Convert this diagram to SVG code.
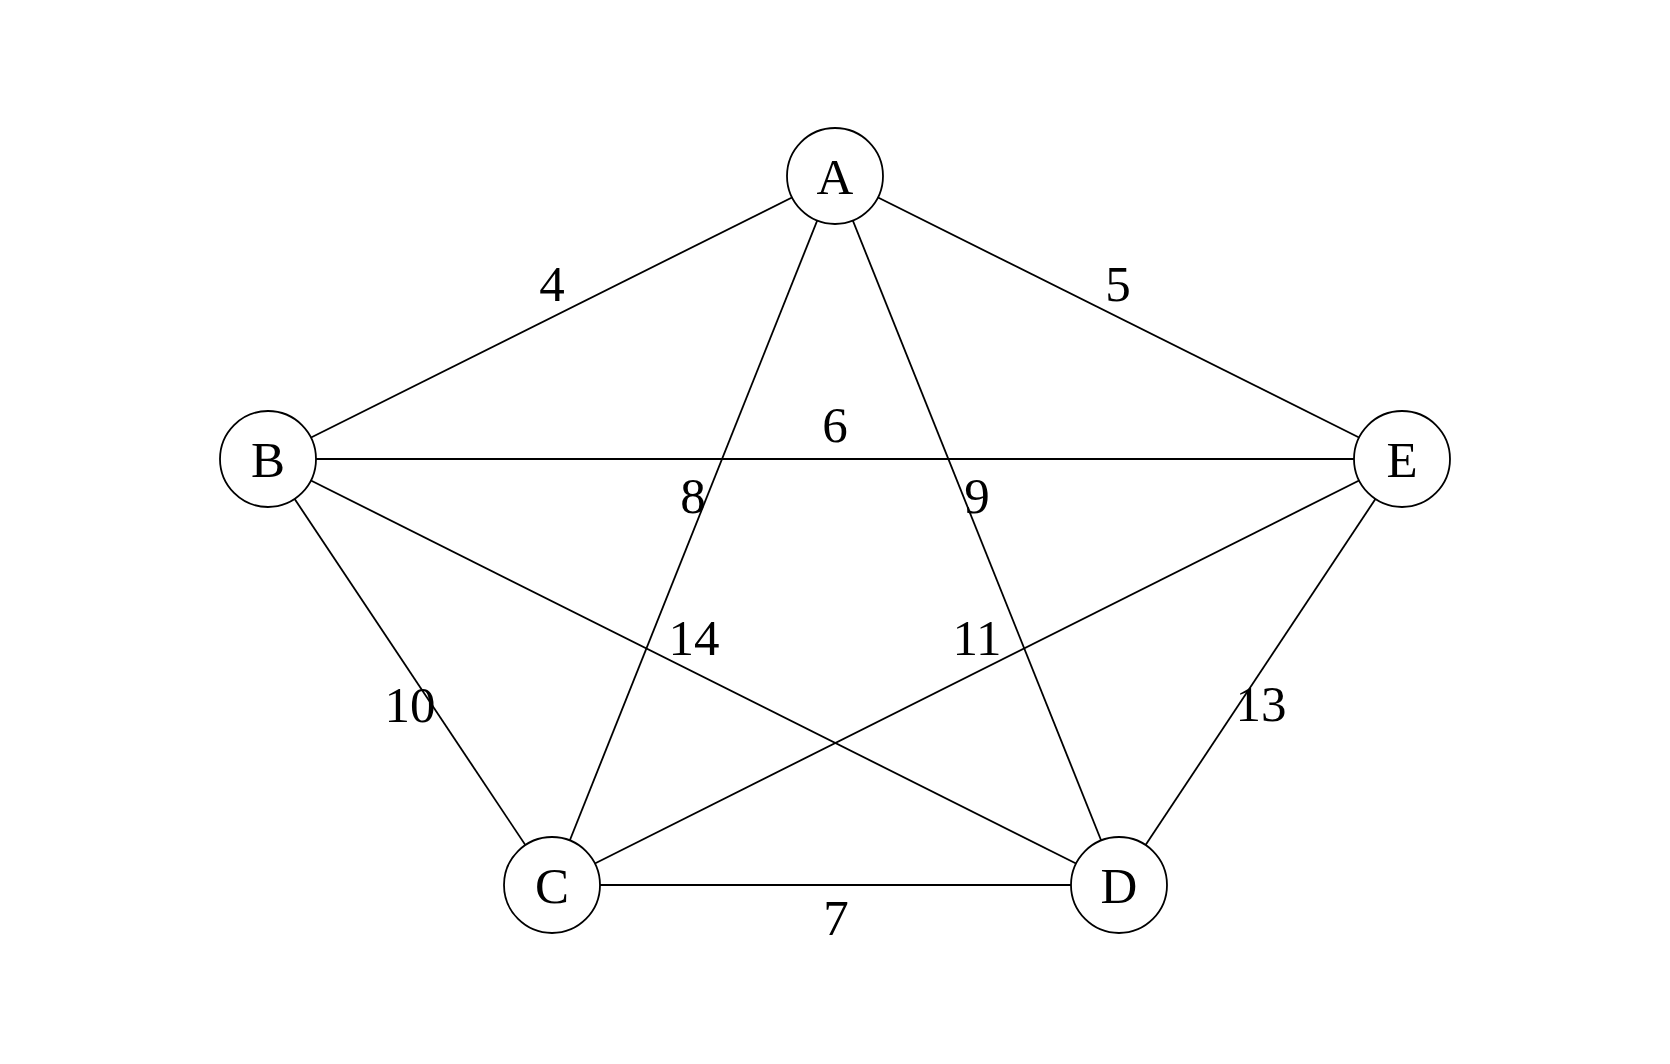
<svg xmlns="http://www.w3.org/2000/svg" width="1670" height="1064" viewBox="0 0 1670 1064">
<style>
.edge{stroke:#000;stroke-width:1.8;fill:none}
.node circle{fill:#fff;stroke:#000;stroke-width:1.8}
text{font-family:"Liberation Serif","Times New Roman",serif;font-size:51px;fill:#000;text-anchor:middle}
</style>
<rect width="1670" height="1064" fill="#fff"/>
<g id="edges">
<line class="edge" x1="835" y1="176" x2="268" y2="459"/>
<line class="edge" x1="835" y1="176" x2="1402" y2="459"/>
<line class="edge" x1="835" y1="176" x2="552" y2="885"/>
<line class="edge" x1="835" y1="176" x2="1119" y2="885"/>
<line class="edge" x1="268" y1="459" x2="1402" y2="459"/>
<line class="edge" x1="268" y1="459" x2="552" y2="885"/>
<line class="edge" x1="268" y1="459" x2="1119" y2="885"/>
<line class="edge" x1="1402" y1="459" x2="552" y2="885"/>
<line class="edge" x1="1402" y1="459" x2="1119" y2="885"/>
<line class="edge" x1="552" y1="885" x2="1119" y2="885"/>
</g>
<g id="edge-labels">
<text x="552" y="301">4</text>
<text x="1118" y="301">5</text>
<text x="835" y="442">6</text>
<text x="693" y="513">8</text>
<text x="977" y="513">9</text>
<text x="694" y="655">14</text>
<text x="977" y="655">11</text>
<text x="410" y="722">10</text>
<text x="1261" y="721">13</text>
<text x="836" y="935">7</text>
</g>
<g id="A" class="node"><circle cx="835" cy="176" r="48"/><text x="835" y="194">A</text></g>
<g id="B" class="node"><circle cx="268" cy="459" r="48"/><text x="268" y="477">B</text></g>
<g id="E" class="node"><circle cx="1402" cy="459" r="48"/><text x="1402" y="477">E</text></g>
<g id="C" class="node"><circle cx="552" cy="885" r="48"/><text x="552" y="903">C</text></g>
<g id="D" class="node"><circle cx="1119" cy="885" r="48"/><text x="1119" y="903">D</text></g>
</svg>
